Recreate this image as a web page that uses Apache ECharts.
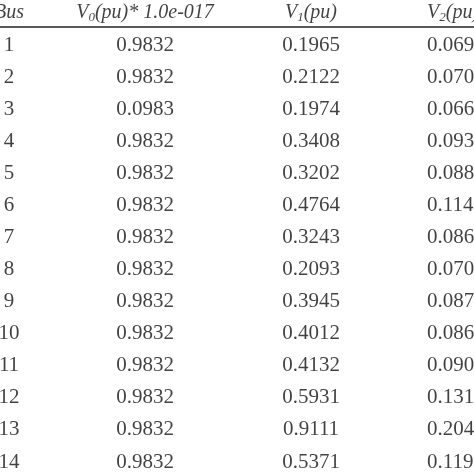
<!DOCTYPE html>
<html><head><meta charset="utf-8">
<script src="https://cdn.jsdelivr.net/npm/echarts@6/dist/echarts.min.js"></script>
<style>html,body{margin:0;padding:0;background:#fff}#c{width:474px;height:474px}</style>
</head><body><div id="c"></div>
<script>
const buses = ['1','2','3','4','5','6','7','8','9','10','11','12','13','14'];
const v0 = ['0.9832','0.9832','0.0983','0.9832','0.9832','0.9832','0.9832','0.9832','0.9832','0.9832','0.9832','0.9832','0.9832','0.9832'];
const v1 = ['0.1965','0.2122','0.1974','0.3408','0.3202','0.4764','0.3243','0.2093','0.3945','0.4012','0.4132','0.5931','0.9111','0.5371'];
const v2 = ['0.069','0.070','0.066','0.093','0.088','0.114','0.086','0.070','0.087','0.086','0.090','0.131','0.204','0.119'];
const colX = {bus: 9, v0: 145, v1: 311, v2: 427};

const font = '"Liberation Serif","DejaVu Serif",serif';
function colSeries(x, vals, align, header) {
  const data = [[x, 0, header]].concat(vals.map((v, i) => [x, i + 1, v]));
  return {
    type: 'scatter', symbolSize: 0, silent: true, data,
    label: {
      show: true, position: 'inside', align: align, verticalAlign: 'middle',
      fontFamily: font, fontSize: 21, color: '#111',
      formatter: p => p.value[2],
      rich: {
        i: {fontFamily: font, fontSize: 20, fontStyle: 'italic', color: '#111'},
        s: {fontFamily: font, fontSize: 13, fontStyle: 'italic', color: '#111', verticalAlign: 'bottom', padding: [9, 0, 0, 0]}
      }
    }
  };
}
const chart = echarts.init(document.getElementById('c'));
chart.setOption({
  animation: false,
  grid: {left: 0, right: 0, top: 0, bottom: 0},
  xAxis: {type: 'value', min: 0, max: 474, show: false},
  yAxis: {type: 'value', inverse: true, min: -0.403, max: 14.373, show: false},
  series: [
    colSeries(colX.bus, buses, 'center', '{i|Bus}'),
    colSeries(colX.v0, v0, 'center', '{i|V}{s|0}{i|(pu)* 1.0e-017}'),
    colSeries(colX.v1, v1, 'center', '{i|V}{s|1}{i|(pu)}'),
    colSeries(colX.v2, v2, 'left', '{i|V}{s|2}{i|(pu)}')
  ],
  graphic: [{type: 'line', shape: {x1: 0, y1: 27, x2: 474, y2: 27}, style: {stroke: '#222', lineWidth: 1.5}}]
});
</script></body></html>
